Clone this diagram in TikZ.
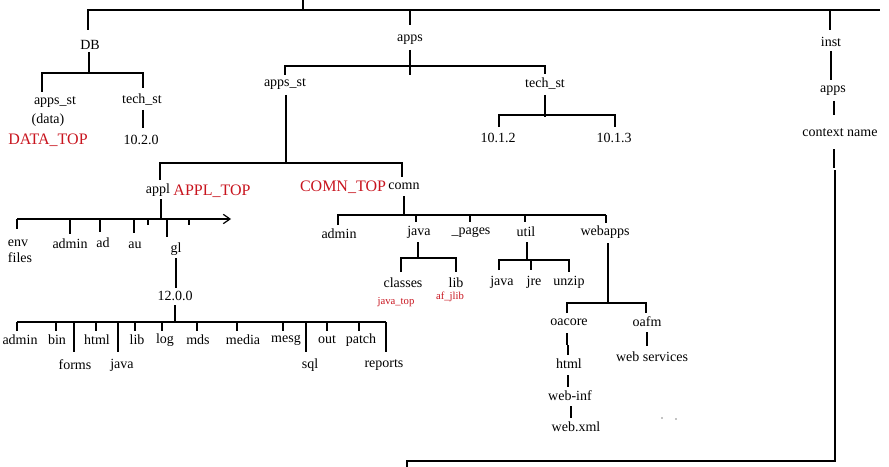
\documentclass[tikz,border=0pt]{standalone}
\usepackage{fontspec}
\setmainfont{Liberation Serif}
\usetikzlibrary{arrows.meta}
\begin{document}
\begin{tikzpicture}[x=0.75pt,y=-0.75pt,
  t/.style={font=\fontsize{10.5}{12}\selectfont, inner sep=1.5pt},
  r/.style={font=\fontsize{12}{13}\selectfont, text={rgb,255:red,200;green,20;blue,30}, inner sep=1pt},
  rs/.style={font=\fontsize{8}{9}\selectfont, text={rgb,255:red,200;green,20;blue,30}, inner sep=1pt},
  ln/.style={line width=0.9pt}]
\useasboundingbox (0,0) rectangle (889,467);
% nodes
\node[t] (db) at (90,45) {DB};
\node[t] (apps) at (410,40) {apps};
\node[t] (inst) at (831,42) {inst};
\node[t] (dbapps) at (55,102) {apps\_st};
\node[t] (data) at (48,120) {(data)};
\node[r] (datatop) at (48,140) {DATA\_TOP};
\node[t] (dbtech) at (142,100) {tech\_st};
\node[t] (v1020) at (141,140) {10.2.0};
\node[t] (appsst) at (285,84) {apps\_st};
\node[t] (techst) at (545,84) {tech\_st};
\node[t] (v1012) at (498,138) {10.1.2};
\node[t] (v1013) at (614,138) {10.1.3};
\node[t] (appl) at (158,190) {appl};
\node[r] (appltop) at (212,191) {APPL\_TOP};
\node[r] (comntop) at (343,187) {COMN\_TOP};
\node[t] (comn) at (404,186) {comn};
\node[t,align=left] (env) at (20,251) {env\\files};
\node[t] (aadmin) at (70,244) {admin};
\node[t] (ad) at (103,243) {ad};
\node[t] (au) at (135,245) {au};
\node[t] (gl) at (176,249) {gl};
\node[t] (v1200) at (175,296) {12.0.0};
\foreach \n/\x/\y in {admin/20/340,bin/57/340,html/97/340,lib/137/340,log/165/340,mds/198/340,media/243/340,mesg/286/340,out/327/340,patch/361/340,forms/75/365,java/122/365,sql/310/365,reports/384/365}
  \node[t] (g\n) at (\x,\y) {\n};
\node[t] (cadmin) at (339,234) {admin};
\node[t] (cjava) at (419,232) {java};
\node[t] (cpages) at (471,232) {\_pages};
\node[t] (cutil) at (526,232) {util};
\node[t] (cweb) at (605,232) {webapps};
\node[t] (classes) at (403,283) {classes};
\node[rs] (javatop) at (396,302) {java\_top};
\node[t] (jlib) at (456,283) {lib};
\node[rs] (afjlib) at (450,297) {af\_jlib};
\node[t] (ujava) at (502,282) {java};
\node[t] (ujre) at (534,282) {jre};
\node[t] (uunzip) at (569,282) {unzip};
\node[t] (oacore) at (569,322) {oacore};
\node[t] (oafm) at (647,322) {oafm};
\node[t] (websvc) at (652,357) {web services};
\node[t] (html) at (569,364) {html};
\node[t] (webinf) at (570,396) {web-inf};
\node[t] (webxml) at (576,427) {web.xml};
\node[t] (iapps) at (833,91) {apps};
\node[t] (ctx) at (840,133) {context name};
\coordinate (topin) at (303,0);
\coordinate (botin) at (407,467);
% top
\draw[ln] (topin) -- (303,10);
\draw[ln] (88,30) -- (88,10) -- (880,10);
\draw[ln] (410,10) -- (410,25);
\draw[ln] (830,10) -- (830,30);
% DB
\draw[ln] (89,52) -- (89,73);
\draw[ln] (42,92) -- (42,73) -- (143,73) -- (143,88);
\draw[ln] (143,110) -- (143,128);
% apps
\draw[ln] (410,50) -- (410,75);
\draw[ln] (285,75) -- (285,66) -- (545,66) -- (545,74);
\draw[ln] (545,95) -- (545,117);
\draw[ln] (499,127) -- (499,115) -- (615,115) -- (615,127);
% apps_st
\draw[ln] (286,95) -- (286,163);
\draw[ln] (160,180) -- (160,163) -- (402,163) -- (402,177);
% appl
\draw[ln] (161,199) -- (161,219);
\draw[ln,-{Straight Barb[length=5pt,width=7pt]}] (17,219) -- (231,219);
\foreach \x/\e in {17/229,70/234,100/232,134/233,148/225,167/237,189/225} \draw[ln] (\x,219) -- (\x,\e);
\draw[ln] (176,258) -- (176,288);
\draw[ln] (175,305) -- (175,322);
\draw[ln] (17,322) -- (386,322);
\foreach \x in {17,56,96,135,162,197,237,283,327,359} \draw[ln] (\x,322) -- (\x,331);
\foreach \x in {74,118,306,386} \draw[ln] (\x,322) -- (\x,352);
% comn
\draw[ln] (404,196) -- (404,215);
\draw[ln] (338,225) -- (338,215) -- (606,215);
\foreach \x in {416,470,525} \draw[ln] (\x,215) -- (\x,222);
\draw[ln] (606,215) -- (606,223);
\draw[ln] (418,242) -- (418,258);
\draw[ln] (401,272) -- (401,258) -- (456,258) -- (456,272);
\draw[ln] (527,242) -- (527,260);
\draw[ln] (499,270) -- (499,260) -- (569,260) -- (569,272);
\draw[ln] (531,260) -- (531,270);
\draw[ln] (608,243) -- (608,303);
\draw[ln] (567,313) -- (567,303) -- (646,303) -- (646,313);
\draw[ln] (647,332) -- (647,346);
\draw[ln] (567,333) -- (567,345) (568,345) -- (568,355);
\draw[ln] (568,375) -- (568,387);
\draw[ln] (571,406) -- (571,418);
% inst
\draw[ln] (831,51) -- (831,80);
\draw[ln] (834,101) -- (834,115);
\draw[ln] (834,149) -- (834,168) (835,170) -- (835,461) -- (407,461) -- (botin);
\fill (662,418) circle (0.6) (676,419) circle (0.6);
\end{tikzpicture}
\end{document}
